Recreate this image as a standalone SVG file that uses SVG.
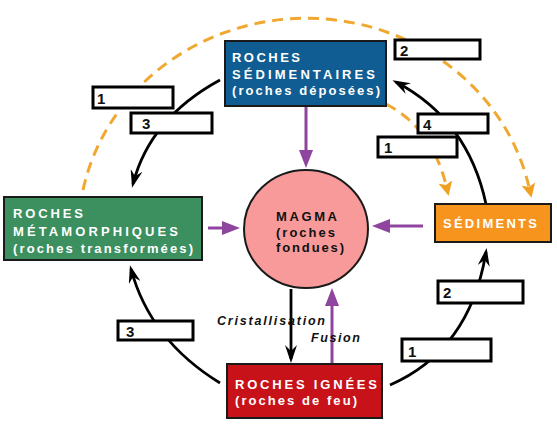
<svg xmlns="http://www.w3.org/2000/svg" width="557" height="428" viewBox="0 0 557 428">
<style>
.bg{fill:#ffffff}
.node{stroke:#1a1a1a;stroke-width:2}
.t{font-family:"Liberation Sans",Arial,sans-serif;font-weight:bold;font-size:13px;fill:#ffffff}
.tk{font-family:"Liberation Sans",Arial,sans-serif;font-weight:bold;font-size:13px;fill:#111111}
.it{font-family:"Liberation Sans",Arial,sans-serif;font-weight:bold;font-style:italic;font-size:12.5px;fill:#111111}
.num{font-family:"Liberation Sans",Arial,sans-serif;font-weight:bold;font-size:15px;fill:#111111}
.lbl{fill:#ffffff;stroke:#000000;stroke-width:3}
.blk{fill:none;stroke:#000000;stroke-width:2.8}
.pur{fill:none;stroke:#8f449f;stroke-width:3}
.dash{fill:none;stroke:#f0a830;stroke-width:3;stroke-dasharray:11 7}
</style>
<defs>
<marker id="ahB" viewBox="0 0 18 12" refX="14" refY="6" markerWidth="18" markerHeight="12" markerUnits="userSpaceOnUse" orient="auto">
<path d="M0,0 L18,6 L0,12 L6,6 Z" fill="#000000"/>
</marker>
<marker id="ahP" viewBox="0 0 18 14" refX="3" refY="7" markerWidth="18" markerHeight="14" markerUnits="userSpaceOnUse" orient="auto">
<path d="M0,0 L18,7 L0,14 Z" fill="#8f449f"/>
</marker>
<marker id="ahO" viewBox="0 0 14 14" refX="3" refY="7" markerWidth="14" markerHeight="14" markerUnits="userSpaceOnUse" orient="auto">
<path d="M0,0 L14,7 L0,14 L3,7 Z" fill="#f0a020"/>
</marker>
</defs>
<rect class="bg" x="0" y="0" width="557" height="428"/>
<g id="connectors">
<path class="dash" d="M83,190 A228,215 0 0 1 529,187" marker-end="url(#ahO)"/>
<path class="dash" d="M386,104 Q432,128 446,185" marker-end="url(#ahO)"/>
<path class="blk" d="M220,80 Q150,118 133,184" marker-end="url(#ahB)"/>
<path class="blk" d="M220,383 Q150,340 131,269" marker-end="url(#ahB)"/>
<path class="blk" d="M390,385 Q470,350 486,252" marker-end="url(#ahB)"/>
<path class="blk" d="M486,204 Q468,120 396,82" marker-end="url(#ahB)"/>
<path class="blk" d="M291,289 V359" marker-end="url(#ahB)"/>
<path class="pur" d="M306,107 V153" marker-end="url(#ahP)"/>
<path class="pur" d="M208,228 H225" marker-end="url(#ahP)"/>
<path class="pur" d="M423,226 H387" marker-end="url(#ahP)"/>
<path class="pur" d="M332,364 V303" marker-end="url(#ahP)"/>
<text class="it" x="217" y="325" textLength="108" lengthAdjust="spacing">Cristallisation</text>
<text class="it" x="311" y="342" textLength="49" lengthAdjust="spacing">Fusion</text>
</g>
<g id="sedimentaires">
<rect class="node" x="225" y="41" width="161" height="65" fill="#0f5d92"/>
<text class="t" x="232" y="62" textLength="68" lengthAdjust="spacing">ROCHES</text>
<text class="t" x="232" y="79" textLength="143" lengthAdjust="spacing">SÉDIMENTAIRES</text>
<text class="t" x="232" y="95" textLength="148" lengthAdjust="spacing">(roches déposées)</text>
</g>
<g id="metamorphiques">
<rect class="node" x="4" y="197" width="198" height="63" fill="#3c8f5f"/>
<text class="t" x="13" y="218" textLength="70" lengthAdjust="spacing">ROCHES</text>
<text class="t" x="13" y="236" textLength="165" lengthAdjust="spacing">MÉTAMORPHIQUES</text>
<text class="t" x="13" y="253" textLength="180" lengthAdjust="spacing">(roches transformées)</text>
</g>
<g id="magma">
<ellipse class="node" cx="306" cy="229" rx="62" ry="59" fill="#f89a9a"/>
<text class="tk" x="276" y="221" textLength="61" lengthAdjust="spacing">MAGMA</text>
<text class="tk" x="276" y="237" textLength="59" lengthAdjust="spacing">(roches</text>
<text class="tk" x="276" y="252" textLength="68" lengthAdjust="spacing">fondues)</text>
</g>
<g id="sediments">
<rect class="node" x="435" y="204" width="116" height="38" fill="#f7941d"/>
<text class="t" x="443" y="228" textLength="94" lengthAdjust="spacing">SÉDIMENTS</text>
</g>
<g id="ignees">
<rect class="node" x="227" y="364" width="155" height="54" fill="#c8121a"/>
<text class="t" x="235" y="389" textLength="142" lengthAdjust="spacing">ROCHES IGNÉES</text>
<text class="t" x="235" y="405" textLength="122" lengthAdjust="spacing">(roches de feu)</text>
</g>
<g id="label-2-top">
<rect class="lbl" x="395" y="40" width="85" height="19"/>
<text class="num" x="400" y="56">2</text>
</g>
<g id="label-4">
<rect class="lbl" x="418" y="114" width="70" height="19"/>
<text class="num" x="423" y="130">4</text>
</g>
<g id="label-1-right">
<rect class="lbl" x="378" y="137" width="79" height="20"/>
<text class="num" x="384" y="153">1</text>
</g>
<g id="label-1-left">
<rect class="lbl" x="93" y="87" width="80" height="21"/>
<text class="num" x="97" y="104">1</text>
</g>
<g id="label-3-top">
<rect class="lbl" x="131" y="113" width="81" height="20"/>
<text class="num" x="142" y="129">3</text>
</g>
<g id="label-3-bottom">
<rect class="lbl" x="118" y="321" width="75" height="19"/>
<text class="num" x="126" y="337">3</text>
</g>
<g id="label-2-bottom">
<rect class="lbl" x="438" y="281" width="85" height="22"/>
<text class="num" x="443" y="298">2</text>
</g>
<g id="label-1-bottom">
<rect class="lbl" x="402" y="339" width="89" height="22"/>
<text class="num" x="408" y="357">1</text>
</g>
</svg>
